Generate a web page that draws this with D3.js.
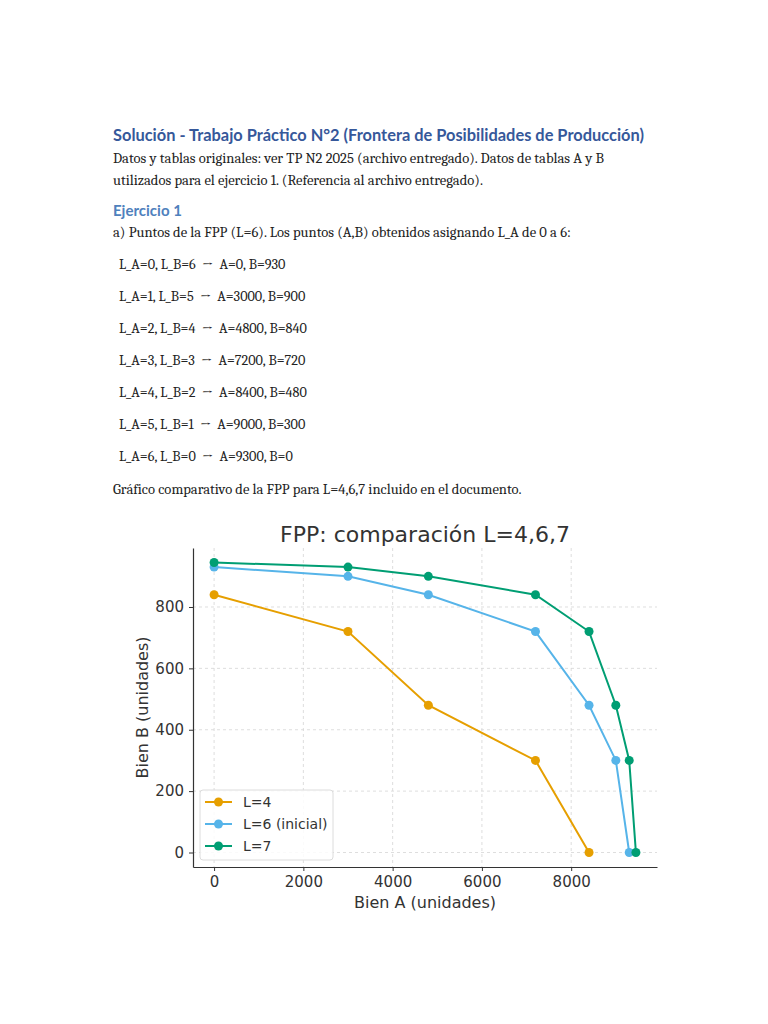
<!DOCTYPE html>
<html>
<head>
<meta charset="utf-8">
<script src="https://cdn.jsdelivr.net/npm/d3@7"></script>
<style>
  body { margin: 0; background: #fff; }
  svg { display: block; }
  .pre { white-space: pre; }
</style>
</head>
<body>
<svg id="page" width="768" height="1024"></svg>
<script>
// document text
const heading = 'Solución - Trabajo Práctico N°2 (Frontera de Posibilidades de Producción)';
const introLines = [
  'Datos y tablas originales: ver TP N2 2025 (archivo entregado). Datos de tablas A y B',
  'utilizados para el ejercicio 1. (Referencia al archivo entregado).'
];
const subHeading = 'Ejercicio 1';
const partA = 'a) Puntos de la FPP (L=6). Los puntos (A,B) obtenidos asignando L_A de 0 a 6:';
const pointLines = [
  'L_A=0, L_B=6  →  A=0, B=930',
  'L_A=1, L_B=5  →  A=3000, B=900',
  'L_A=2, L_B=4  →  A=4800, B=840',
  'L_A=3, L_B=3  →  A=7200, B=720',
  'L_A=4, L_B=2  →  A=8400, B=480',
  'L_A=5, L_B=1  →  A=9000, B=300',
  'L_A=6, L_B=0  →  A=9300, B=0'
];
const chartNote = 'Gráfico comparativo de la FPP para L=4,6,7 incluido en el documento.';

// chart data
const seriesNames = ['L=4', 'L=6 (inicial)', 'L=7'];
const seriesColors = ['#E69F00', '#56B4E9', '#009E73'];
const l4A = [0, 3000, 4800, 7200, 8400];
const l4B = [840, 720, 480, 300, 0];
const l6A = [0, 3000, 4800, 7200, 8400, 9000, 9300];
const l6B = [930, 900, 840, 720, 480, 300, 0];
const l7A = [0, 3000, 4800, 7200, 8400, 9000, 9300, 9450];
const l7B = [945, 930, 900, 840, 720, 480, 300, 0];
const xTicks = [0, 2000, 4000, 6000, 8000];
const yTicks = [0, 200, 400, 600, 800];

const svg = d3.select('#page');

// ---- text part ----
const serif = 'Caladea, "DejaVu Serif", "Liberation Serif", serif';
const sans = 'Lato, "Open Sans", sans-serif';

svg.append('text')
  .attr('x', 113).attr('y', 141)
  .attr('font-family', sans).attr('font-weight', 'bold')
  .attr('font-size', 16.4).attr('fill', '#36589A')
  .text(heading);

introLines.forEach((t, i) => {
  svg.append('text')
    .attr('x', 113).attr('y', 163 + i * 22)
    .attr('font-family', serif).attr('font-size', 14.6).attr('fill', '#222')
    .text(t);
});

svg.append('text')
  .attr('x', 113).attr('y', 216)
  .attr('font-family', sans).attr('font-weight', 'bold')
  .attr('font-size', 15).attr('fill', '#4F81BD')
  .text(subHeading);

svg.append('text')
  .attr('x', 113).attr('y', 237)
  .attr('font-family', serif).attr('font-size', 14.6).attr('fill', '#222')
  .text(partA);

pointLines.forEach((t, i) => {
  svg.append('text')
    .attr('class', 'pre')
    .attr('x', 119).attr('y', 269 + i * 32)
    .attr('font-family', serif).attr('font-size', 14.2).attr('fill', '#222')
    .text(t);
});

svg.append('text')
  .attr('x', 113).attr('y', 494)
  .attr('font-family', serif).attr('font-size', 14.6).attr('fill', '#222')
  .text(chartNote);

// ---- chart ----
const plot = { left: 193, right: 657, top: 548, bottom: 867 };
const chartFont = '"DejaVu Sans", sans-serif';
const textColor = '#333';

const x = d3.scaleLinear()
  .domain([-472.5, 9922.5])
  .range([plot.left, plot.right]);

const y = d3.scaleLinear()
  .domain([-47.25, 992.25])
  .range([plot.bottom, plot.top]);

const g = svg.append('g');

// grid
g.append('g')
  .selectAll('line')
  .data(xTicks)
  .join('line')
  .attr('x1', d => x(d)).attr('x2', d => x(d))
  .attr('y1', plot.top).attr('y2', plot.bottom)
  .attr('stroke', '#d6d6d6').attr('stroke-width', 0.8)
  .attr('stroke-dasharray', '3,3');

g.append('g')
  .selectAll('line')
  .data(yTicks)
  .join('line')
  .attr('x1', plot.left).attr('x2', plot.right)
  .attr('y1', d => y(d)).attr('y2', d => y(d))
  .attr('stroke', '#d6d6d6').attr('stroke-width', 0.8)
  .attr('stroke-dasharray', '3,3');

// axes
const xAxis = g.append('g')
  .attr('transform', `translate(0,${plot.bottom})`)
  .call(d3.axisBottom(x).tickValues(xTicks).tickFormat(d3.format('d'))
    .tickSize(4).tickPadding(5).tickSizeOuter(0));

const yAxis = g.append('g')
  .attr('transform', `translate(${plot.left},0)`)
  .call(d3.axisLeft(y).tickValues(yTicks).tickFormat(d3.format('d'))
    .tickSize(4).tickPadding(5).tickSizeOuter(0));

[xAxis, yAxis].forEach(ax => {
  ax.select('.domain').attr('stroke', '#333').attr('stroke-width', 1.2);
  ax.selectAll('.tick line').attr('stroke', '#333').attr('stroke-width', 1);
  ax.selectAll('.tick text')
    .attr('font-family', chartFont).attr('font-size', 15).attr('fill', textColor);
});

// axis labels
svg.append('text')
  .attr('x', (plot.left + plot.right) / 2).attr('y', 908)
  .attr('text-anchor', 'middle')
  .attr('font-family', chartFont).attr('font-size', 16).attr('fill', textColor)
  .text('Bien A (unidades)');

svg.append('text')
  .attr('transform', `translate(148,${(plot.top + plot.bottom) / 2}) rotate(-90)`)
  .attr('text-anchor', 'middle')
  .attr('font-family', chartFont).attr('font-size', 16).attr('fill', textColor)
  .text('Bien B (unidades)');

// title
svg.append('text')
  .attr('x', (plot.left + plot.right) / 2).attr('y', 542)
  .attr('text-anchor', 'middle')
  .attr('font-family', chartFont).attr('font-size', 22).attr('fill', textColor)
  .text('FPP: comparación L=4,6,7');

// series
const seriesData = [
  l4A.map((a, i) => ({ a, b: l4B[i] })),
  l6A.map((a, i) => ({ a, b: l6B[i] })),
  l7A.map((a, i) => ({ a, b: l7B[i] }))
];

const line = d3.line().x(d => x(d.a)).y(d => y(d.b));

seriesData.forEach((pts, i) => {
  const s = g.append('g');
  s.append('path')
    .datum(pts)
    .attr('fill', 'none')
    .attr('stroke', seriesColors[i])
    .attr('stroke-width', 2)
    .attr('d', line);
  s.selectAll('circle')
    .data(pts)
    .join('circle')
    .attr('cx', d => x(d.a)).attr('cy', d => y(d.b))
    .attr('r', 4.5)
    .attr('fill', seriesColors[i]);
});

// legend
const legend = svg.append('g').attr('transform', 'translate(200,790)');
legend.append('rect')
  .attr('width', 133).attr('height', 70).attr('rx', 3)
  .attr('fill', 'rgba(255,255,255,0.85)')
  .attr('stroke', '#dcdcdc').attr('stroke-width', 1);

seriesNames.forEach((name, i) => {
  const row = legend.append('g').attr('transform', `translate(0,${12 + i * 22})`);
  row.append('line')
    .attr('x1', 5).attr('x2', 32)
    .attr('stroke', seriesColors[i]).attr('stroke-width', 2);
  row.append('circle')
    .attr('cx', 18.5).attr('r', 4.5).attr('fill', seriesColors[i]);
  row.append('text')
    .attr('x', 43).attr('y', 5)
    .attr('font-family', chartFont).attr('font-size', 14).attr('fill', textColor)
    .text(name);
});
</script>
</body>
</html>
